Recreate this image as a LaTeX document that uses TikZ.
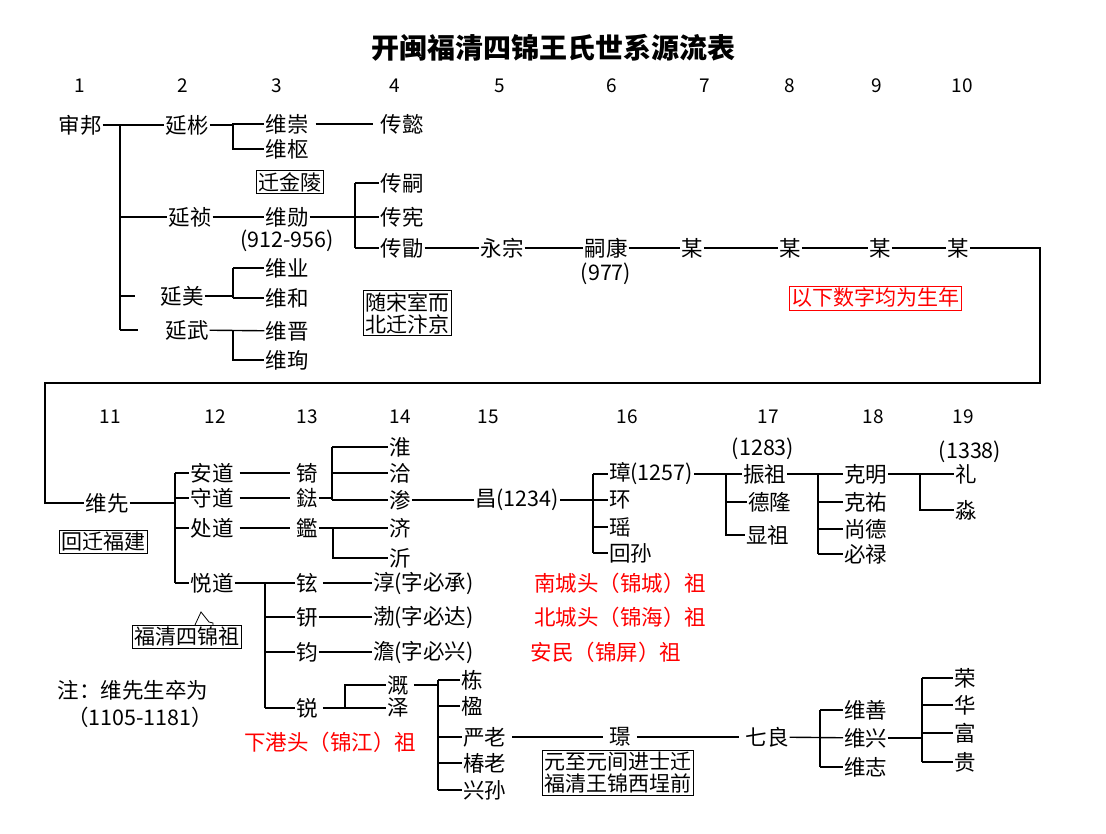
\documentclass[tikz,border=0pt]{standalone}
\usepackage{fontspec}
\newfontfamily\cjk{Noto Sans CJK SC}
\begin{document}
\begin{tikzpicture}[x=1pt,y=-1pt,
			person/.style={font=\cjk\fontsize{21.5}{23}\selectfont, inner sep=1pt},
			gen/.style={font=\cjk\fontsize{19}{20}\selectfont},
			notebox/.style={draw, thick, align=center, inner sep=2pt, font=\cjk\fontsize{21}{22}\selectfont},
			redtxt/.style={person, text=red},
			link/.style={line width=1.4pt},
			]
				\useasboundingbox (0,0) rectangle (1106,834);
				\node[font=\cjk\bfseries\fontsize{28}{30}\selectfont] (title) at (553,48) {开闽福清四锦王氏世系源流表};
				% generations 1-10
				\foreach \g/\x in {1/80,2/183,3/277,4/395,5/500,6/612,7/705,8/790,9/877,10/962}
					\node[gen] (g\g) at (\x,86) {\g};
				% generations 11-19
				\foreach \g/\x in {11/110,12/215,13/307,14/400,15/488,16/627,17/768,18/873,19/963}
					\node[gen] (g\g) at (\x,417) {\g};
				
				% upper part
				\node[person] (shenbang) at (80,125) {审邦};
				\node[person] (yanbin) at (187,125) {延彬};
				\node[person] (weichong) at (287,124) {维崇};
				\node[person] (weishu) at (287,149) {维枢};
				\node[person] (chuanyi) at (402,124) {传懿};
				\node[notebox] (jinling) at (290,182) {迁金陵};
				\node[person] (yanzhen) at (190,217) {延祯};
				\node[person] (weixun) at (287,217) {维勋};
				\node[person] (wxyear) at (287,241) {(912-956)};
				\node[person] (chuansi) at (402,183) {传嗣};
				\node[person] (chuanxian) at (402,217) {传宪};
				\node[person] (chuanxu) at (402,248) {传勖};
				\node[person] (yongzong) at (502,248) {永宗};
				\node[person] (sikang) at (606,248) {嗣康};
				\node[person] (skyear) at (606,274) {(977)};
				\node[person] (mou1) at (692,248) {某};
				\node[person] (mou2) at (790,248) {某};
				\node[person] (mou3) at (880,248) {某};
				\node[person] (mou4) at (958,248) {某};
				\node[notebox, draw=red, text=red, thin] (birthnote) at (875,298) {以下数字均为生年};
				\node[person] (yanmei) at (182,296) {延美};
				\node[person] (weiye) at (287,268) {维业};
				\node[person] (weihe) at (287,298) {维和};
				\node[person] (yanwu) at (187,330) {延武};
				\node[person] (weijin) at (287,331) {维晋};
				\node[person] (weixuan) at (287,360) {维珣};
				\node[notebox] (bianjing) at (407,313) {随宋室而\\北迁汴京};
				
				\draw[link] (shenbang) -- (yanbin);
				\draw[link] (120,125) -- (120,330);
				\draw[link] (120,217) -- (yanzhen.west);
				\draw[link] (120,296) -- (135,296);
				\draw[link] (120,330) -- (138,330);
				\draw[link] (yanbin) -- (233,125) |- (weichong.west);
				\draw[link] (233,125) |- (weishu.west);
				\draw[link, shorten <=6pt, shorten >=6pt] (weichong) -- (chuanyi);
				\draw[link] (yanzhen) -- (weixun);
				\draw[link] (weixun.east) -- (chuanxian.west);
				\draw[link] (355,183) -- (355,248);
				\draw[link] (355,183) -- (chuansi.west);
				\draw[link] (355,248) -- (chuanxu.west);
				\draw[link] (chuanxu) -- (yongzong);
				\draw[link] (yongzong) -- (sikang);
				\draw[link] (sikang) -- (mou1);
				\draw[link] (mou1) -- (mou2);
				\draw[link] (mou2) -- (mou3);
				\draw[link] (mou3) -- (mou4);
				\draw[link] (yanmei) -- (233,296);
				\draw[link] (233,268) -- (233,298);
				\draw[link] (233,268) -- (weiye.west);
				\draw[link] (233,298) -- (weihe.west);
				\draw[link] (yanwu) -- (weijin);
				\draw[link] (233,331) |- (weixuan.west);
				
				% lower part
				\node[person] (weixian) at (107,503) {维先};
				\node[notebox] (fujian) at (103,542) {回迁福建};
				\draw[link] (mou4) -- (1040,248) -- (1040,383) -- (45,383) |- (weixian.west);
				\node[person] (andao) at (212,473) {安道};
				\node[person] (shoudao) at (212,498) {守道};
				\node[person] (chudao) at (212,528) {处道};
				\node[person] (yuedao) at (212,583) {悦道};
				\draw[link] (weixian) -- (175,503);
				\draw[link] (175,473) -- (175,583);
				\foreach \n/\y in {andao/473,shoudao/498,chudao/528,yuedao/583}
					\draw[link] (175,\y) -- (\n.west);
				\node[person] (qi) at (307,473) {锜};
				\node[person] (fa) at (307,498) {鍅};
				\node[person] (jian) at (307,528) {鑑};
				\draw[link, shorten <=5pt, shorten >=5pt] (andao) -- (qi);
				\draw[link, shorten <=5pt, shorten >=5pt] (shoudao) -- (fa);
				\draw[link, shorten <=5pt, shorten >=5pt] (chudao) -- (jian);
				\node[person] (huai) at (400,447) {淮};
				\node[person] (qia) at (400,473) {洽};
				\node[person] (shen) at (400,500) {渗};
				\node[person] (ji) at (400,528) {济};
				\node[person] (yi) at (400,558) {沂};
				\draw[link] (fa) -- (332,498);
				\draw[link] (332,447) -- (332,500);
				\foreach \n/\y in {huai/447,qia/473,shen/500}
					\draw[link] (332,\y) -- (\n.west);
				\draw[link] (jian) -- (ji);
				\draw[link] (333,528) |- (yi.west);
				\node[person] (chang) at (517,500) {昌(1234)};
				\draw[link] (shen) -- (chang);
				\node[person, anchor=west] (zhang) at (608,474) {璋(1257)};
				\node[person, anchor=west] (huan) at (608,500) {环};
				\node[person, anchor=west] (yao) at (608,527) {瑶};
				\node[person, anchor=west] (huisun) at (608,553) {回孙};
				\draw[link] (chang) -- (593,500);
				\draw[link] (593,474) -- (593,553);
				\foreach \n/\y in {zhang/474,huan/500,yao/527,huisun/553}
					\draw[link] (593,\y) -- (\n.west);
				\node[person] (y1283) at (763,449) {(1283)};
				\node[person, anchor=west] (zhenzu) at (742,474) {振祖};
				\node[person, anchor=west] (delong) at (747,502) {德隆};
				\node[person, anchor=west] (xianzu) at (745,535) {显祖};
				\draw[link] (zhang) -- (zhenzu);
				\draw[link] (726,474) |- (delong.west);
				\draw[link] (726,474) |- (xianzu.west);
				\node[person, anchor=west] (keming) at (843,474) {克明};
				\node[person, anchor=west] (keyou) at (843,502) {克祐};
				\node[person, anchor=west] (shangde) at (843,529) {尚德};
				\node[person, anchor=west] (bilu) at (843,554) {必禄};
				\draw[link] (zhenzu) -- (keming);
				\draw[link] (818,474) -- (818,554);
				\foreach \n/\y in {keyou/502,shangde/529,bilu/554}
					\draw[link] (818,\y) -- (\n.west);
				\node[person] (y1338) at (970,452) {(1338)};
				\node[person] (li) at (966,474) {礼};
				\node[person] (miao) at (966,510) {淼};
				\draw[link] (keming) -- (li);
				\draw[link] (920,474) |- (miao.west);
				
				% yuedao branch
				\node[person] (xuan) at (307,583) {铉};
				\node[person] (xing) at (307,617) {钘};
				\node[person] (jun) at (307,652) {钧};
				\node[person] (rui) at (307,708) {锐};
				\draw[link] (yuedao) -- (xuan);
				\draw[link] (265,583) -- (265,708);
				\foreach \n/\y in {xing/617,jun/652,rui/708}
					\draw[link] (265,\y) -- (\n.west);
				\node[person, anchor=west] (chun) at (372,583) {淳(字必承)};
				\node[person, anchor=west] (bo) at (372,617) {渤(字必达)};
				\node[person, anchor=west] (dan) at (372,652) {澹(字必兴)};
				\draw[link, shorten <=4pt] (xuan) -- (chun);
				\draw[link] (xing) -- (bo);
				\draw[link] (jun) -- (dan);
				\node[redtxt] (nancheng) at (620,583) {南城头（锦城）祖};
				\node[redtxt] (beicheng) at (620,617) {北城头（锦海）祖};
				\node[redtxt] (anmin) at (606,652) {安民（锦屏）祖};
				\node[notebox] (sijin) at (187,637) {福清四锦祖};
				\draw[thick, fill=white] (sijin.north -| 195,0) -- (201,612) -- (209,622) -- (213,623) -- (sijin.north -| 213,0);
				\node[person] (zhu1) at (133,690) {注：维先生卒为};
				\node[person] (zhu2) at (140,717) {（1105-1181）};
				\node[person] (gai) at (398,685) {溉};
				\node[person] (ze) at (398,708) {泽};
				\draw[link, shorten <=4pt] (rui) -- (ze);
				\draw[link] (345,708) |- (gai.west);
				\node[redtxt] (xiagang) at (330,742) {下港头（锦江）祖};
				\node[person, anchor=west] (dong) at (460,680) {栋};
				\node[person, anchor=west] (ying) at (460,706) {楹};
				\node[person, anchor=west] (yanlao) at (462,737) {严老};
				\node[person, anchor=west] (chunlao) at (462,763) {椿老};
				\node[person, anchor=west] (xingsun) at (462,790) {兴孙};
				\draw[link, shorten <=4pt] (gai) -- (438,685);
				\draw[link] (438,680) -- (438,790);
				\foreach \n/\y in {dong/680,ying/706,yanlao/737,chunlao/763,xingsun/790}
					\draw[link] (438,\y) -- (\n.west);
				\node[person] (jing) at (620,737) {璟};
				\node[person] (qiliang) at (767,737) {七良};
				\draw[link, shorten <=5pt, shorten >=5pt] (yanlao) -- (jing);
				\draw[link, shorten <=5pt, shorten >=5pt] (jing) -- (qiliang);
				\node[notebox] (xichengqian) at (618,773) {元至元间进士迁\\福清王锦西埕前};
				\node[person, anchor=west] (weishan) at (843,710) {维善};
				\node[person, anchor=west] (weixing) at (843,738) {维兴};
				\node[person, anchor=west] (weizhi) at (843,767) {维志};
				\draw[link] (qiliang) -- (weixing);
				\draw[link] (820,710) -- (820,767);
				\draw[link] (820,710) -- (weishan.west);
				\draw[link] (820,767) -- (weizhi.west);
				\node[person] (rong) at (965,678) {荣};
				\node[person] (hua) at (965,705) {华};
				\node[person] (fu) at (965,733) {富};
				\node[person] (gui) at (965,762) {贵};
				\draw[link] (weixing) -- (922,738);
				\draw[link] (922,678) -- (922,762);
				\foreach \n/\y in {rong/678,hua/705,fu/733,gui/762}
					\draw[link] (922,\y) -- (\n.west);
			\end{tikzpicture}
\end{document}
